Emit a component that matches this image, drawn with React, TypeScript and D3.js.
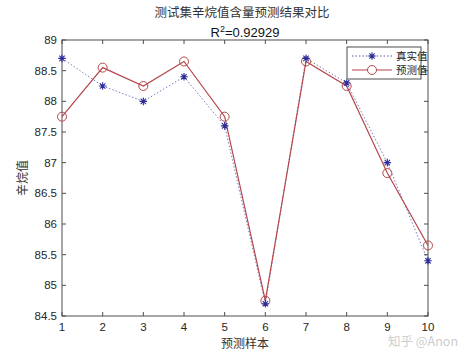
import React from "react";
import * as d3 from "d3";

const samples = [1, 2, 3, 4, 5, 6, 7, 8, 9, 10];
const trueValues = [88.7, 88.25, 88.0, 88.4, 87.6, 84.7, 88.7, 88.3, 87.0, 85.4];
const predValues = [87.75, 88.55, 88.25, 88.65, 87.75, 84.75, 88.65, 88.25, 86.83, 85.65];
const yTicks = [84.5, 85, 85.5, 86, 86.5, 87, 87.5, 88, 88.5, 89];
const title = "测试集辛烷值含量预测结果对比";
const subtitle = "0.92929";
const xLabel = "预测样本";
const yLabel = "辛烷值";
const legendLabels = ["真实值", "预测值"];

const W = 474, H = 355;
const L = 62, R = 428, T = 40, B = 316;

export default function App() {
  const x = d3.scaleLinear().domain([1, 10]).range([L, R]);
  const y = d3.scaleLinear().domain([84.5, 89]).range([B, T]);
  const line = d3.line<number>().x((_, i) => x(samples[i])).y((d) => y(d));
  const axisColor = "#4d4d4d";
  const textColor = "#262626";
  const blue = "#2d2d9a";
  const red = "#b5474a";
  const star = (cx: number, cy: number, k: string) => {
    const r = 3.8;
    const segs = [0, 45, 90, 135].map((a) => {
      const rad = (a * Math.PI) / 180;
      return `M${cx - r * Math.cos(rad)},${cy - r * Math.sin(rad)}L${cx + r * Math.cos(rad)},${cy + r * Math.sin(rad)}`;
    });
    return <path key={k} d={segs.join("")} stroke={blue} strokeWidth={1.1} fill="none" />;
  };
  const cjk = "'Noto Sans CJK SC', sans-serif";
  const sans = "'Liberation Sans', Arial, sans-serif";
  return (
    <svg width={W} height={H} style={{ position: "absolute", left: 0, top: 0, background: "#fff" }}>
      <rect x={0} y={0} width={W} height={H} fill="#fff" />
      <text x={242} y={17} textAnchor="middle" fontFamily={cjk} fontSize={12.5} fill="#333">{title}</text>
      <text x={245} y={37} textAnchor="middle" fontFamily={sans} fontSize={13} fill="#111">
        R<tspan dy={-5} fontSize={9}>2</tspan><tspan dy={5}>={subtitle}</tspan>
      </text>
      <rect x={L} y={T} width={R - L} height={B - T} fill="#fff" stroke={axisColor} strokeWidth={1} />
      {samples.map((s) => (
        <g key={"xt" + s}>
          <line x1={x(s)} x2={x(s)} y1={B} y2={B - 4} stroke={axisColor} />
          <line x1={x(s)} x2={x(s)} y1={T} y2={T + 4} stroke={axisColor} />
          <text x={x(s)} y={B + 15} textAnchor="middle" fontFamily={sans} fontSize={11.5} fill={textColor}>{s}</text>
        </g>
      ))}
      {yTicks.map((t) => (
        <g key={"yt" + t}>
          <line x1={L} x2={L + 4} y1={y(t)} y2={y(t)} stroke={axisColor} />
          <line x1={R} x2={R - 4} y1={y(t)} y2={y(t)} stroke={axisColor} />
          <text x={L - 5} y={y(t) + 4} textAnchor="end" fontFamily={sans} fontSize={11.5} fill={textColor}>{t}</text>
        </g>
      ))}
      <text x={245} y={348} textAnchor="middle" fontFamily={cjk} fontSize={12} fill="#333">{xLabel}</text>
      <text transform={`translate(27,${(T + B) / 2}) rotate(-90)`} textAnchor="middle" fontFamily={cjk} fontSize={12} fill="#333">{yLabel}</text>
      <path d={line(trueValues) || ""} fill="none" stroke={blue} strokeWidth={0.8} strokeDasharray="1.5,2" opacity={0.8} />
      <path d={line(predValues) || ""} fill="none" stroke={red} strokeWidth={1.2} />
      {predValues.map((v, i) => (
        <circle key={"pc" + i} cx={x(samples[i])} cy={y(v)} r={4.5} fill="none" stroke={red} strokeWidth={1} />
      ))}
      {trueValues.map((v, i) => star(x(samples[i]), y(v), "st" + i))}
      <rect x={347} y={47} width={74} height={32} fill="#fff" stroke={axisColor} strokeWidth={1} />
      <line x1={352} x2={392} y1={56} y2={56} stroke={blue} strokeWidth={0.8} strokeDasharray="1.5,2" />
      {star(372, 56, "ls")}
      <text x={396} y={59.5} fontFamily={cjk} fontSize={10.5} fill="#222">{legendLabels[0]}</text>
      <line x1={352} x2={392} y1={70} y2={70} stroke={red} strokeWidth={1.2} />
      <circle cx={372} cy={70} r={4.5} fill="#fff" stroke={red} strokeWidth={1} />
      <text x={396} y={74} fontFamily={cjk} fontSize={10.5} fill="#222">{legendLabels[1]}</text>
      <text x={423} y={346} textAnchor="middle" fontFamily={cjk} fontSize={12.5} fill="#cdcdcd">知乎 @Anon</text>
    </svg>
  );
}
